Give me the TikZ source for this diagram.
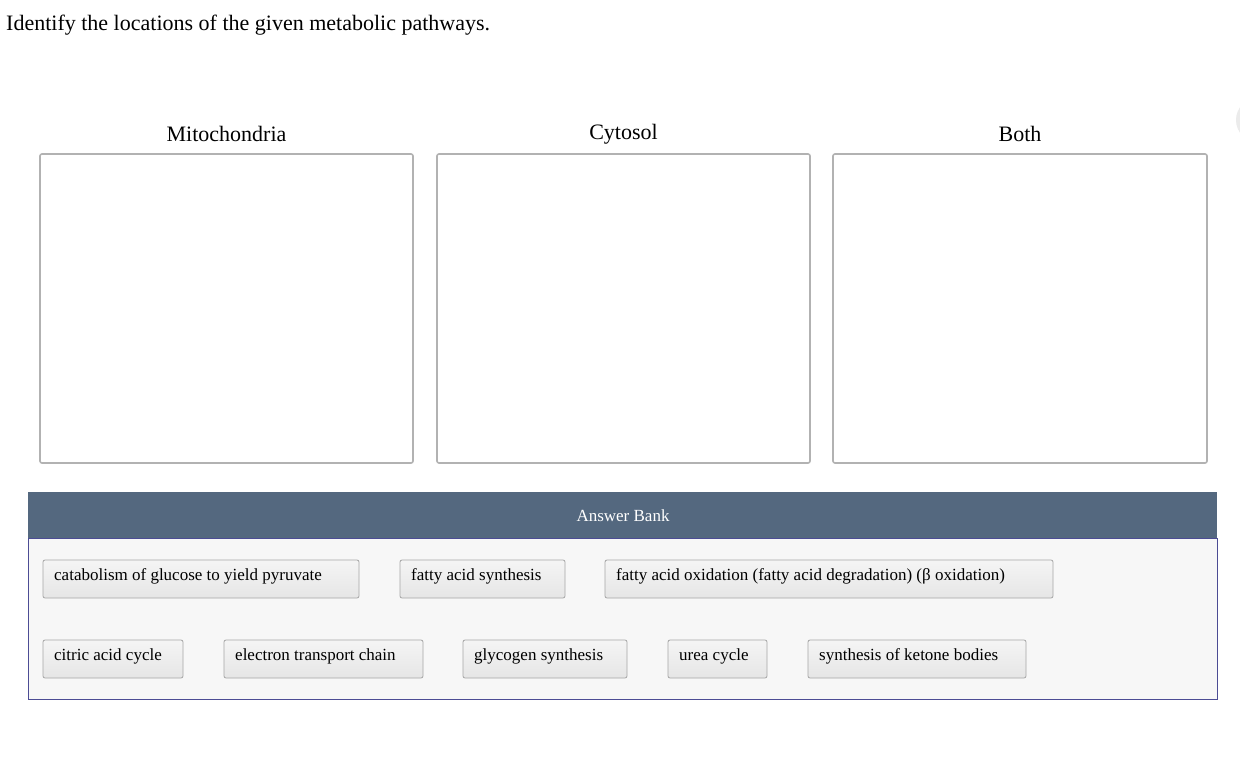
\documentclass[tikz,border=0pt]{standalone}
\usepackage{fontspec}
\setmainfont{Liberation Serif}
\begin{document}
\begin{tikzpicture}[x=1pt,y=-1pt,
  drop/.style={draw=black!30,line width=1.6pt,rounded corners=2pt,fill=white},
  chip/.style={draw=black!35,line width=0.8pt,rounded corners=2pt,top color=black!4,bottom color=black!10},
  chiptxt/.style={anchor=west,font=\fontsize{17}{20}\selectfont,inner sep=0pt},
  hdr/.style={font=\fontsize{22}{26}\selectfont,inner sep=0pt}]
\clip (0,0) rectangle (1240,782);
\fill[white] (0,0) rectangle (1240,782);
\fill[black!8] (1258,120) circle (22);
\node[anchor=west,font=\fontsize{22}{26}\selectfont,inner sep=0pt] (title) at (6,25) {Identify the locations of the given metabolic pathways.};
\node[hdr] (hm) at (226.5,134) {Mitochondria};
\node[hdr] (hc) at (623.5,134) {Cytosol};
\node[hdr] (hb) at (1020,134) {Both};
\draw[drop] (40,154) rectangle (413,463);
\draw[drop] (437,154) rectangle (810,463);
\draw[drop] (833,154) rectangle (1207,463);
\fill[black!2!white!97!gray] (28,538) rectangle (1217,699);
\draw[fill=black!3,draw=black!60!blue!70] (28,538) rectangle (1217,699);
\fill[fill={rgb,255:red,84;green,104;blue,127}] (28,492) rectangle (1217,538);
\node[text=white,font=\fontsize{17}{20}\selectfont,inner sep=0pt] (ab) at (623,516) {Answer Bank};
\foreach \a/\b/\y/\t in {43/359/560/{catabolism of glucose to yield pyruvate},
  400/565/560/{fatty acid synthesis},
  605/1053/560/{fatty acid oxidation (fatty acid degradation) (β oxidation)},
  43/183/640/{citric acid cycle},
  224/423/640/{electron transport chain},
  463/627/640/{glycogen synthesis},
  668/767/640/{urea cycle},
  808/1026/640/{synthesis of ketone bodies}}{
  \draw[chip] (\a,\y) rectangle (\b,\y+38);
  \node[chiptxt] at (\a+11,\y+16) {\t};
}
\end{tikzpicture}
\end{document}
